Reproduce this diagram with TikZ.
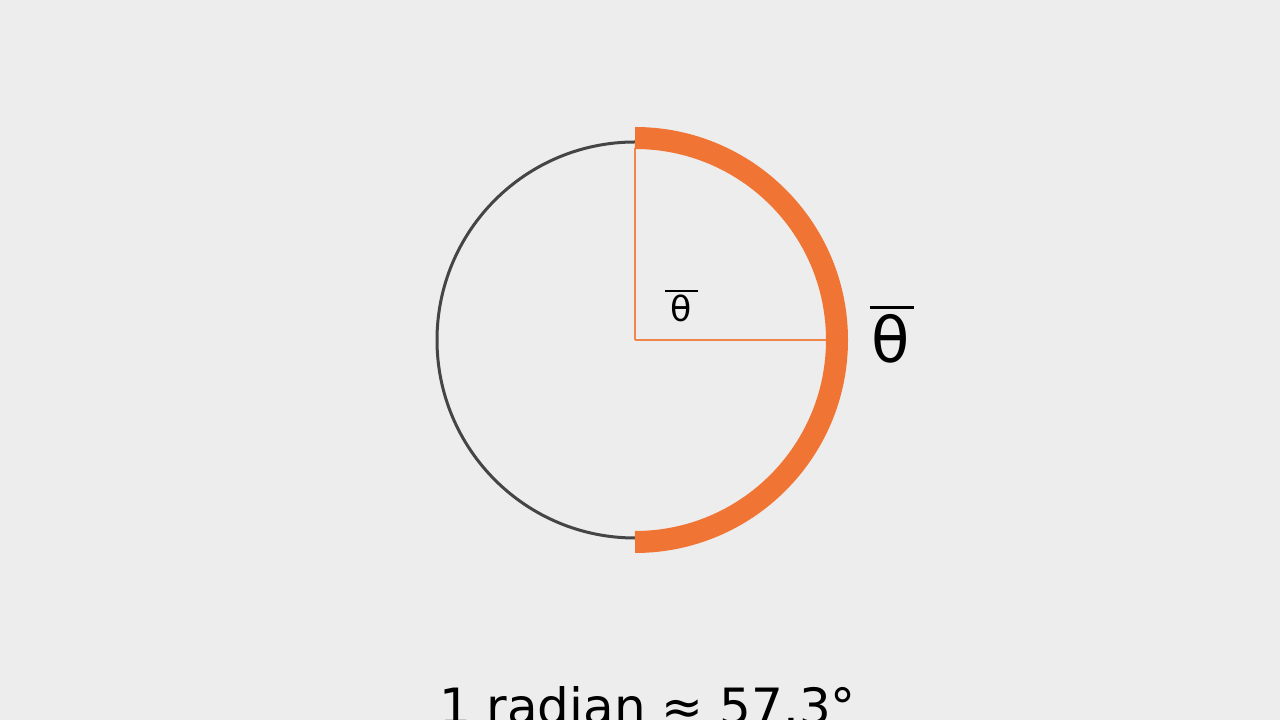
\documentclass[tikz,border=0pt]{standalone}
\usepackage{fontspec}
\setmainfont{DejaVu Sans}
\usetikzlibrary{calc}
\definecolor{bg}{HTML}{EDEDED}
\definecolor{arcorange}{HTML}{F07434}
\definecolor{lineorange}{HTML}{F0864A}
\definecolor{circgray}{HTML}{454545}
\begin{document}
\begin{tikzpicture}[x=0.75pt,y=0.75pt,
  circleline/.style={draw=circgray, line width=2.25pt},
  radiusline/.style={draw=lineorange, line width=1.6pt},
  arcline/.style={draw=arcorange, line width=16.5pt, line cap=butt},
  barline/.style={draw=black, line width=2.4pt},
  lbl/.style={inner sep=0pt, outer sep=0pt, text=black}]
\fill[bg] (0,0) rectangle (1280,720);
\useasboundingbox (0,0) rectangle (1280,720);
\coordinate (O) at (635,380);
\coordinate (T) at (635,572);
\coordinate (R) at (826,380);
\draw[circleline] (O) circle[radius=198];
\draw[radiusline] (O) -- (T);
\draw[radiusline] (O) -- (R);
\draw[arcline] (635,582) arc[start angle=90, end angle=-90, radius=202];
\node[lbl, font=\fontsize{26}{28}\selectfont] (s) at (681.5,411.5) {θ};
\draw[barline, line width=2.2pt] ($(s.north)+(-16.5,4)$) -- ($(s.north)+(16.5,4)$);
\node[lbl, font=\fontsize{47}{50}\selectfont] (b) at (890.5,381) {θ};
\draw[barline, line width=2.6pt] ($(b.north)+(-21,7)$) -- ($(b.north)+(23,7)$);
\node[lbl, anchor=base, font=\fontsize{37.5}{40}\selectfont] (cap) at (647.5,-4.5) {1 radian ≈ 57.3°};
\end{tikzpicture}
\end{document}
